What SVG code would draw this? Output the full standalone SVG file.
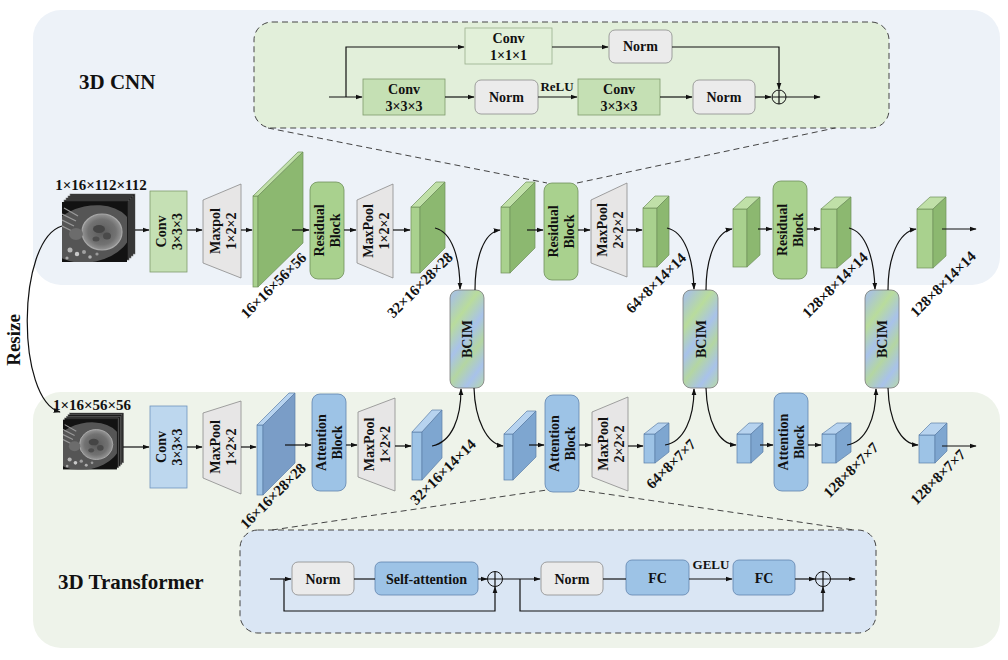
<svg xmlns="http://www.w3.org/2000/svg" xmlns:xlink="http://www.w3.org/1999/xlink" width="1008" height="660" viewBox="0 0 1008 660">
<style>
text{font-family:"Liberation Serif","Times New Roman",serif;font-weight:bold;fill:#111}
.lbl{font-size:14px;text-anchor:middle}
.dim{font-size:15px;text-anchor:middle}
.ttl{font-size:21px}
.ln{fill:none;stroke:#111;stroke-width:1.2}
.arr{fill:none;stroke:#111;stroke-width:1.2;marker-end:url(#ah)}
.dash{fill:none;stroke:#444;stroke-width:1;stroke-dasharray:6 4}
.gconv{fill:#c5e0b4;stroke:#7f9c6c;stroke-width:0.8}
.gres{fill:#a9d18e;stroke:#6f8f5a;stroke-width:0.8}
.bconv{fill:#bdd7ee;stroke:#6f93bd;stroke-width:0.8}
.batt{fill:#9dc3e6;stroke:#5f83ad;stroke-width:0.8}
.pool{fill:#e7e6e6;stroke:#8a8a8a;stroke-width:0.8}
.norm{fill:#ebebeb;stroke:#8a8a8a;stroke-width:0.8}
.gf{fill:#a9d18e;stroke:#6f8f5a;stroke-width:0.7}
.gt{fill:#c0e0a8;stroke:#6f8f5a;stroke-width:0.7}
.gr{fill:#8cb870;stroke:#6f8f5a;stroke-width:0.7}
.bf{fill:#9dc3e6;stroke:#5b7ea8;stroke-width:0.7}
.bt{fill:#b7d3ef;stroke:#5b7ea8;stroke-width:0.7}
.br{fill:#7ea6d0;stroke:#5b7ea8;stroke-width:0.7}
.bcim{stroke:#7a7a7a;stroke-width:0.8}
.slc{fill:#1c1c1c;stroke:#7a7a7a;stroke-width:0.6}
</style>
<defs>
<marker id="ah" viewBox="0 0 10 10" refX="9" refY="5" markerWidth="7" markerHeight="7" markerUnits="userSpaceOnUse" orient="auto">
<path d="M0,1.5 L10,5 L0,8.5 z" fill="#111"/>
</marker>
<linearGradient id="bstops" spreadMethod="reflect">
<stop offset="0" stop-color="#a9c3dc"/>
<stop offset="0.35" stop-color="#b9dc9c"/>
<stop offset="0.7" stop-color="#a8c2ea"/>
<stop offset="1" stop-color="#b4d6a2"/>
</linearGradient>
<linearGradient id="bg1" xlink:href="#bstops" gradientUnits="userSpaceOnUse" x1="450" y1="300" x2="490" y2="330"/>
<linearGradient id="bg2" xlink:href="#bstops" gradientUnits="userSpaceOnUse" x1="683" y1="300" x2="723" y2="330"/>
<linearGradient id="bg3" xlink:href="#bstops" gradientUnits="userSpaceOnUse" x1="865" y1="300" x2="905" y2="330"/>
<radialGradient id="organ" cx="0.5" cy="0.5" r="0.5">
<stop offset="0" stop-color="#5a5a5a"/>
<stop offset="0.7" stop-color="#727272"/>
<stop offset="1" stop-color="#959595"/>
</radialGradient>
<clipPath id="fc"><rect x="0" y="8" width="65" height="60"/></clipPath>
<g id="ct">
<rect class="slc" x="8" y="0" width="65" height="60"/>
<rect class="slc" x="6" y="2" width="65" height="60"/>
<rect class="slc" x="4" y="4" width="65" height="60"/>
<rect class="slc" x="2" y="6" width="65" height="60"/>
<rect x="0" y="8" width="65" height="60" fill="#121212"/>
<g clip-path="url(#fc)">
<ellipse cx="28" cy="40" rx="42" ry="28" transform="rotate(-12 28 40)" fill="#555"/>
<path d="M2,14 L16,22 M0,20 L14,27 M0,26 L12,32 M0,32 L10,37" stroke="#9a9a9a" stroke-width="1.3"/>
<ellipse cx="40" cy="38" rx="20" ry="18" fill="url(#organ)" stroke="#a8a8a8" stroke-width="1.2"/>
<ellipse cx="37" cy="35" rx="6" ry="4" fill="#454545"/>
<ellipse cx="45" cy="42" rx="4" ry="3.5" fill="#4a4a4a"/>
<ellipse cx="34" cy="45" rx="3.5" ry="2.5" fill="#4d4d4d"/>
<ellipse cx="14" cy="40" rx="7" ry="6" fill="#6c6c6c"/>
<circle cx="8" cy="56" r="2.5" fill="#b5b5b5"/>
<circle cx="15" cy="60" r="2.2" fill="#c8c8c8"/>
<circle cx="22" cy="58" r="2" fill="#a0a0a0"/>
<circle cx="28" cy="63" r="1.8" fill="#b0b0b0"/>
<circle cx="5" cy="64" r="1.6" fill="#aaa"/>
<circle cx="35" cy="60" r="1.6" fill="#9a9a9a"/>
</g>
</g>
</defs>

<rect width="1008" height="660" fill="#ffffff"/>

<g id="panels">
<rect x="33" y="10" width="967" height="275" rx="28" fill="#edf2f8"/>
<rect x="33" y="392" width="967" height="256" rx="28" fill="#eef3ea"/>
</g>

<g id="titles">
<text class="ttl" x="79" y="89">3D CNN</text>
<text class="ttl" x="58" y="589">3D Transformer</text>
<text style="font-size:19px;text-anchor:middle" transform="translate(20,340) rotate(-90)">Resize</text>
</g>

<g id="residual-detail">
<rect x="254" y="22" width="635" height="106" rx="18" fill="#e2efda" stroke="#444" stroke-width="1" stroke-dasharray="6 4"/>
<rect x="465" y="28" width="87" height="36" fill="#e2f0d9" stroke="#9aae8c" stroke-width="0.8"/>
<text class="lbl" x="508.5" y="43">Conv</text>
<text class="lbl" x="508.5" y="60">1×1×1</text>
<rect class="norm" x="609" y="30" width="63" height="33" rx="6"/>
<text class="lbl" x="640.5" y="51">Norm</text>
<rect class="gconv" x="363" y="79" width="82" height="36"/>
<text class="lbl" x="404" y="94">Conv</text>
<text class="lbl" x="404" y="111">3×3×3</text>
<rect class="norm" x="475" y="80" width="63" height="34" rx="6"/>
<text class="lbl" x="506.5" y="102">Norm</text>
<text style="font-size:13px;text-anchor:middle" x="557" y="91">ReLU</text>
<rect class="gconv" x="578" y="79" width="82" height="36"/>
<text class="lbl" x="619" y="94">Conv</text>
<text class="lbl" x="619" y="111">3×3×3</text>
<rect class="norm" x="693" y="80" width="62" height="34" rx="6"/>
<text class="lbl" x="724" y="102">Norm</text>
<circle cx="779" cy="97" r="7" fill="none" stroke="#111" stroke-width="1"/>
<path class="ln" d="M772,97 H786 M779,90 V104"/>
</g>

<g id="attention-detail">
<rect x="240" y="530" width="636" height="103" rx="18" fill="#dae6f4" stroke="#444" stroke-width="1" stroke-dasharray="6 4"/>
<rect class="norm" x="292" y="562" width="62" height="33" rx="6"/>
<text class="lbl" x="323" y="584">Norm</text>
<rect class="batt" x="375" y="562" width="103" height="33" rx="6"/>
<text class="lbl" x="426.5" y="584">Self-attention</text>
<circle cx="495" cy="579" r="7.5" fill="none" stroke="#111" stroke-width="1"/>
<path class="ln" d="M487.5,579 H502.5 M495,571.5 V586.5"/>
<rect class="norm" x="541" y="562" width="62" height="33" rx="6"/>
<text class="lbl" x="572" y="584">Norm</text>
<rect class="batt" x="626" y="560" width="63" height="35" rx="6"/>
<text class="lbl" x="657.5" y="583">FC</text>
<text style="font-size:13px;text-anchor:middle" x="711" y="569">GELU</text>
<rect class="batt" x="733" y="560" width="62" height="35" rx="6"/>
<text class="lbl" x="764" y="583">FC</text>
<circle cx="823" cy="579" r="7.5" fill="none" stroke="#111" stroke-width="1"/>
<path class="ln" d="M815.5,579 H830.5 M823,571.5 V586.5"/>
</g>

<g id="img-top">
<text class="dim" x="101" y="190">1×16×112×112</text>
<use xlink:href="#ct" transform="translate(62,194)"/>
</g>
<g id="img-bottom">
<text class="dim" x="92" y="410">1×16×56×56</text>
<use xlink:href="#ct" transform="translate(63,413) scale(0.83)"/>
</g>

<g id="cnn-conv">
<rect class="gconv" x="150" y="191" width="37" height="81"/>
<text class="lbl" transform="translate(168.5,231.5) rotate(-90)"><tspan x="0" y="-3">Conv</tspan><tspan x="0" y="13">3×3×3</tspan></text>
</g>
<g id="cnn-pool1">
<polygon class="pool" points="203,200 241,184 241,278 203,263"/>
<text class="lbl" transform="translate(223,231) rotate(-90)"><tspan x="0" y="-3">Maxpol</tspan><tspan x="0" y="13">1×2×2</tspan></text>
</g>
<g id="cnn-fm1">
<rect class="gf" x="253" y="196" width="5" height="91"/>
<polygon class="gt" points="253,196 258,196 303,152 298,152"/>
<polygon class="gr" points="258,196 303,152 303,243 258,287"/>
<text class="dim" transform="translate(273.5,285.5) rotate(-45)" y="5">16×16×56×56</text>
</g>
<g id="cnn-res1">
<rect class="gres" x="310" y="182" width="34" height="97" rx="8"/>
<text class="lbl" transform="translate(327,230.5) rotate(-90)"><tspan x="0" y="-3">Residual</tspan><tspan x="0" y="13">Block</tspan></text>
</g>
<g id="cnn-pool2">
<polygon class="pool" points="357,200 393,184 393,278 357,263"/>
<text class="lbl" transform="translate(376,231) rotate(-90)"><tspan x="0" y="-3">MaxPool</tspan><tspan x="0" y="13">1×2×2</tspan></text>
</g>
<g id="cnn-fm2">
<rect class="gf" x="411" y="207" width="9" height="66"/>
<polygon class="gt" points="411,207 420,207 445,182 436,182"/>
<polygon class="gr" points="420,207 445,182 445,248 420,273"/>
<text class="dim" transform="translate(420,285) rotate(-45)" y="5">32×16×28×28</text>
</g>
<g id="cnn-fm3">
<rect class="gf" x="501" y="207" width="9" height="66"/>
<polygon class="gt" points="501,207 510,207 535,182 526,182"/>
<polygon class="gr" points="510,207 535,182 535,248 510,273"/>
</g>
<g id="cnn-res2">
<rect class="gres" x="544" y="183" width="34" height="97" rx="8"/>
<text class="lbl" transform="translate(561,231.5) rotate(-90)"><tspan x="0" y="-3">Residual</tspan><tspan x="0" y="13">Block</tspan></text>
</g>
<g id="cnn-pool3">
<polygon class="pool" points="591,200 627,183 627,277 591,263"/>
<text class="lbl" transform="translate(610,230) rotate(-90)"><tspan x="0" y="-3">MaxPool</tspan><tspan x="0" y="13">2×2×2</tspan></text>
</g>
<g id="cnn-fm4">
<rect class="gf" x="643" y="208" width="14" height="59"/>
<polygon class="gt" points="643,208 657,208 669,196 655,196"/>
<polygon class="gr" points="657,208 669,196 669,255 657,267"/>
<text class="dim" transform="translate(656,283) rotate(-45)" y="5">64×8×14×14</text>
</g>
<g id="cnn-fm5">
<rect class="gf" x="733" y="209" width="14" height="58"/>
<polygon class="gt" points="733,209 747,209 760,197 746,197"/>
<polygon class="gr" points="747,209 760,197 760,255 747,267"/>
</g>
<g id="cnn-res3">
<rect class="gres" x="773" y="181" width="34" height="98" rx="8"/>
<text class="lbl" transform="translate(790,230) rotate(-90)"><tspan x="0" y="-3">Residual</tspan><tspan x="0" y="13">Block</tspan></text>
</g>
<g id="cnn-fm6">
<rect class="gf" x="821" y="209" width="16" height="59"/>
<polygon class="gt" points="821,209 837,209 851,197 835,197"/>
<polygon class="gr" points="837,209 851,197 851,256 837,268"/>
<text class="dim" transform="translate(835,285) rotate(-45)" y="5">128×8×14×14</text>
</g>
<g id="cnn-fm7">
<rect class="gf" x="917" y="209" width="16" height="59"/>
<polygon class="gt" points="917,209 933,209 946,197 930,197"/>
<polygon class="gr" points="933,209 946,197 946,256 933,268"/>
<text class="dim" transform="translate(943,284) rotate(-45)" y="5">128×8×14×14</text>
</g>

<g id="bcim1">
<rect class="bcim" x="450" y="290" width="34" height="98" rx="8" fill="url(#bg1)"/>
<text class="lbl" transform="translate(467,339) rotate(-90)" y="5">BCIM</text>
</g>
<g id="bcim2">
<rect class="bcim" x="683" y="290" width="35" height="98" rx="8" fill="url(#bg2)"/>
<text class="lbl" transform="translate(700.5,339) rotate(-90)" y="5">BCIM</text>
</g>
<g id="bcim3">
<rect class="bcim" x="865" y="290" width="34" height="98" rx="8" fill="url(#bg3)"/>
<text class="lbl" transform="translate(882,339) rotate(-90)" y="5">BCIM</text>
</g>

<g id="tr-conv">
<rect class="bconv" x="150" y="406" width="37" height="82"/>
<text class="lbl" transform="translate(168.5,447) rotate(-90)"><tspan x="0" y="-3">Conv</tspan><tspan x="0" y="13">3×3×3</tspan></text>
</g>
<g id="tr-pool1">
<polygon class="pool" points="203,413 241,401 241,494 203,478"/>
<text class="lbl" transform="translate(223,447) rotate(-90)"><tspan x="0" y="-3">MaxPool</tspan><tspan x="0" y="13">1×2×2</tspan></text>
</g>
<g id="tr-fm1">
<rect class="bf" x="257" y="425" width="6" height="70"/>
<polygon class="bt" points="257,425 263,425 295,393 289,393"/>
<polygon class="br" points="263,425 295,393 295,463 263,495" style="fill:#7a9dc7"/>
<text class="dim" transform="translate(273,496) rotate(-45)" y="5">16×16×28×28</text>
</g>
<g id="tr-att1">
<rect class="batt" x="312" y="394" width="34" height="97" rx="8"/>
<text class="lbl" transform="translate(329,442.5) rotate(-90)"><tspan x="0" y="-3">Attention</tspan><tspan x="0" y="13">Block</tspan></text>
</g>
<g id="tr-pool2">
<polygon class="pool" points="358,412 395,398 395,491 358,477"/>
<text class="lbl" transform="translate(377,444.5) rotate(-90)"><tspan x="0" y="-3">MaxPool</tspan><tspan x="0" y="13">1×2×2</tspan></text>
</g>
<g id="tr-fm2">
<rect class="bf" x="412" y="432" width="10" height="48"/>
<polygon class="bt" points="412,432 422,432 442,410 432,410"/>
<polygon class="br" points="422,432 442,410 442,458 422,480"/>
<text class="dim" transform="translate(443,472) rotate(-45)" y="5">32×16×14×14</text>
</g>
<g id="tr-fm3">
<rect class="bf" x="504" y="434" width="9" height="46"/>
<polygon class="bt" points="504,434 513,434 536,411 527,411"/>
<polygon class="br" points="513,434 536,411 536,457 513,480"/>
</g>
<g id="tr-att2">
<rect class="batt" x="545" y="395" width="34" height="97" rx="8"/>
<text class="lbl" transform="translate(562,443.5) rotate(-90)"><tspan x="0" y="-3">Attention</tspan><tspan x="0" y="13">Block</tspan></text>
</g>
<g id="tr-pool3">
<polygon class="pool" points="592,412 628,397 628,491 592,477"/>
<text class="lbl" transform="translate(611,444) rotate(-90)"><tspan x="0" y="-3">MaxPool</tspan><tspan x="0" y="13">2×2×2</tspan></text>
</g>
<g id="tr-fm4">
<rect class="bf" x="644" y="434" width="11" height="29"/>
<polygon class="bt" points="644,434 655,434 669,423 658,423"/>
<polygon class="br" points="655,434 669,423 669,452 655,463"/>
<text class="dim" transform="translate(671,464) rotate(-45)" y="5">64×8×7×7</text>
</g>
<g id="tr-fm5">
<rect class="bf" x="737" y="434" width="14" height="29"/>
<polygon class="bt" points="737,434 751,434 763,423 749,423"/>
<polygon class="br" points="751,434 763,423 763,452 751,463"/>
</g>
<g id="tr-att3">
<rect class="batt" x="774" y="393" width="34" height="98" rx="8"/>
<text class="lbl" transform="translate(791,442) rotate(-90)"><tspan x="0" y="-3">Attention</tspan><tspan x="0" y="13">Block</tspan></text>
</g>
<g id="tr-fm6">
<rect class="bf" x="822" y="434" width="14" height="29"/>
<polygon class="bt" points="822,434 836,434 851,423 837,423"/>
<polygon class="br" points="836,434 851,423 851,452 836,463"/>
<text class="dim" transform="translate(851,470) rotate(-45)" y="5">128×8×7×7</text>
</g>
<g id="tr-fm7">
<rect class="bf" x="919" y="435" width="16" height="28"/>
<polygon class="bt" points="919,435 935,435 947,423 931,423"/>
<polygon class="br" points="935,435 947,423 947,451 935,463"/>
<text class="dim" transform="translate(938,477) rotate(-45)" y="5">128×8×7×7</text>
</g>

<g id="connectors">
<path class="dash" d="M268,128 L547,183 M577,183 L835,128"/>
<path class="dash" d="M272,530 L547,490 M579,490 L854,530"/>
<path class="arr" d="M62,226 C16,240 16,400 60,412"/>
<path class="arr" d="M329,97 H362"/>
<path class="arr" d="M346,97 V47 H464"/>
<path class="arr" d="M552,47 H608"/>
<path class="arr" d="M672,47 H779 V89"/>
<path class="arr" d="M445,97 H474"/>
<path class="arr" d="M538,97 H577"/>
<path class="arr" d="M660,97 H692"/>
<path class="arr" d="M755,97 H771"/>
<path class="arr" d="M786,97 H820"/>
<path class="arr" d="M270,579 H291"/>
<path class="arr" d="M284,579 V611 H495 V587"/>
<path class="ln" d="M354,579 H375"/>
<path class="arr" d="M478,579 H487"/>
<path class="arr" d="M502.5,579 H540"/>
<path class="arr" d="M520,579 V611 H823 V587"/>
<path class="ln" d="M603,579 H626"/>
<path class="arr" d="M689,579 H732"/>
<path class="arr" d="M795,579 H815"/>
<path class="arr" d="M830.5,579 H855"/>
<path class="arr" d="M135,230 H149"/>
<path class="arr" d="M187,230 H202"/>
<path class="arr" d="M241,230 H252"/>
<path class="arr" d="M292,230 H309"/>
<path class="arr" d="M344,230 H356"/>
<path class="arr" d="M393,230 H410"/>
<path class="arr" d="M435,228 C452,232 460,258 460,289"/>
<path class="arr" d="M475,290 C475,258 484,232 500,230"/>
<path class="arr" d="M527,230 H543"/>
<path class="arr" d="M578,230 H590"/>
<path class="arr" d="M627,230 H642"/>
<path class="arr" d="M667,228 C685,232 693,258 694,289"/>
<path class="arr" d="M706,290 C706,258 716,232 732,229"/>
<path class="arr" d="M758,229 H772"/>
<path class="arr" d="M807,229 H820"/>
<path class="arr" d="M849,228 C866,232 874,258 875,289"/>
<path class="arr" d="M888,290 C888,258 898,232 916,229"/>
<path class="arr" d="M942,229 H976"/>
<path class="arr" d="M123,447 H149"/>
<path class="arr" d="M187,447 H202"/>
<path class="arr" d="M241,447 H256"/>
<path class="arr" d="M285,445 H311"/>
<path class="arr" d="M346,445 H357"/>
<path class="arr" d="M395,446 H411"/>
<path class="arr" d="M432,446 C452,442 461,418 461,389"/>
<path class="arr" d="M474,388 C475,420 487,444 503,446"/>
<path class="arr" d="M529,445 H544"/>
<path class="arr" d="M579,445 H591"/>
<path class="arr" d="M628,446 H643"/>
<path class="arr" d="M665,445 C684,442 694,418 694,389"/>
<path class="arr" d="M706,388 C707,420 718,444 736,445"/>
<path class="arr" d="M760,445 H773"/>
<path class="arr" d="M808,445 H821"/>
<path class="arr" d="M847,445 C866,442 876,418 876,389"/>
<path class="arr" d="M888,388 C889,420 900,444 918,445"/>
<path class="arr" d="M942,446 H976"/>
</g>
</svg>
